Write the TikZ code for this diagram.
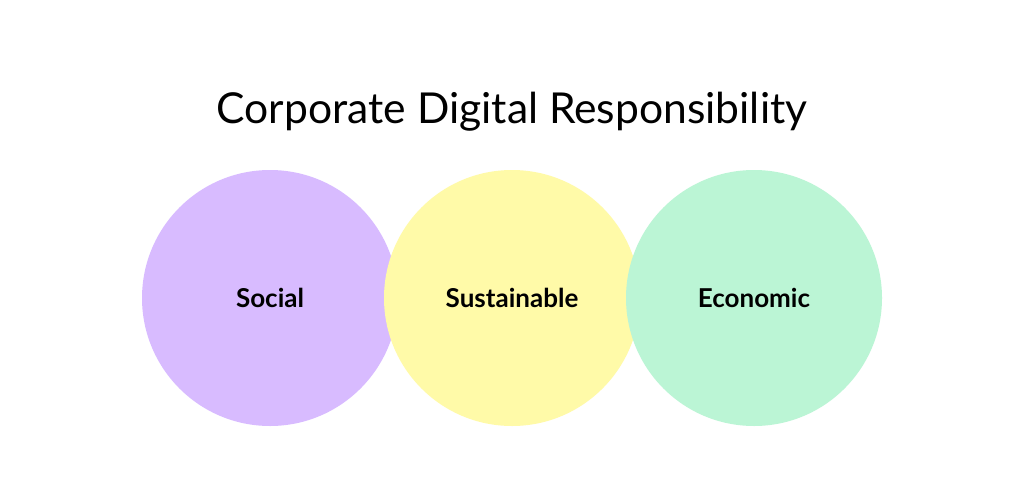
\documentclass[tikz,border=0pt]{standalone}
\usepackage{fontspec}
\setmainfont{Lato}
\usetikzlibrary{positioning}

\definecolor{socialpurple}{RGB}{216,187,255}
\definecolor{sustyellow}{RGB}{255,250,168}
\definecolor{econgreen}{RGB}{187,245,213}

\tikzset{
  pillar/.style={circle, minimum size=256pt, inner sep=0pt, outer sep=0pt,
    font=\fontsize{26}{30}\selectfont\bfseries},
}

\begin{document}
\begin{tikzpicture}[x=1pt,y=-1pt]

%fix page size
\useasboundingbox (0,0) rectangle (1024,487);
\fill[white] (0,0) rectangle (1024,487);

%label figure
\node[anchor=base, font=\fontsize{42.6}{48}\selectfont] (title) at (512,123) {Corporate Digital Responsibility};

%draw the three circles
\node[pillar, fill=socialpurple] (social) at (270,298) {Social};
\node[pillar, fill=sustyellow, right=-14pt of social] (sustainable) {Sustainable};
\node[pillar, fill=econgreen, right=-14pt of sustainable] (economic) {Economic};

\end{tikzpicture}
\end{document}
